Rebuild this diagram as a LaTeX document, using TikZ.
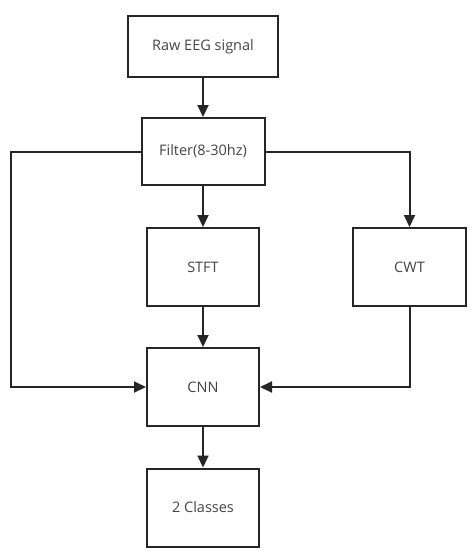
\documentclass[tikz,border=0pt]{standalone}
\usepackage{fontspec}
\setmainfont{Open Sans}
\usetikzlibrary{arrows.meta}
\definecolor{ink}{HTML}{262626}
\definecolor{txt}{HTML}{454545}
\begin{document}
\begin{tikzpicture}[x=1pt,y=-1pt,
  box/.style={draw=ink, line width=2pt, fill=white, inner sep=0pt, font=\fontsize{14.5}{16}\selectfont, text=txt},
  conn/.style={draw=ink, line width=2pt, -{Triangle[length=12pt,width=11pt]}}]
\useasboundingbox (0,0) rectangle (474,558);
\node[box, minimum width=150pt, minimum height=61pt] (raw) at (203,46.5) {Raw EEG signal};
\node[box, minimum width=123pt, minimum height=67pt] (filt) at (203,151.5) {Filter(8-30hz)};
\node[box, minimum width=112pt, minimum height=78pt] (stft) at (203,267) {STFT};
\node[box, minimum width=113pt, minimum height=78pt] (cwt) at (409.5,267) {CWT};
\node[box, minimum width=112pt, minimum height=78pt] (cnn) at (203,387) {CNN};
\node[box, minimum width=112pt, minimum height=78pt] (cls) at (203,507.5) {2 Classes};
\coordinate (lt) at (11,151.5);
\draw[conn] (raw) -- (filt);
\draw[conn] (filt) -- (stft);
\draw[conn] (stft) -- (cnn);
\draw[conn] (cnn) -- (cls);
\draw[conn] (filt.west) -- (lt) |- (cnn.west);
\draw[conn] (filt.east) -| (cwt.north);
\draw[conn] (cwt.south) |- (cnn.east);
\end{tikzpicture}
\end{document}
